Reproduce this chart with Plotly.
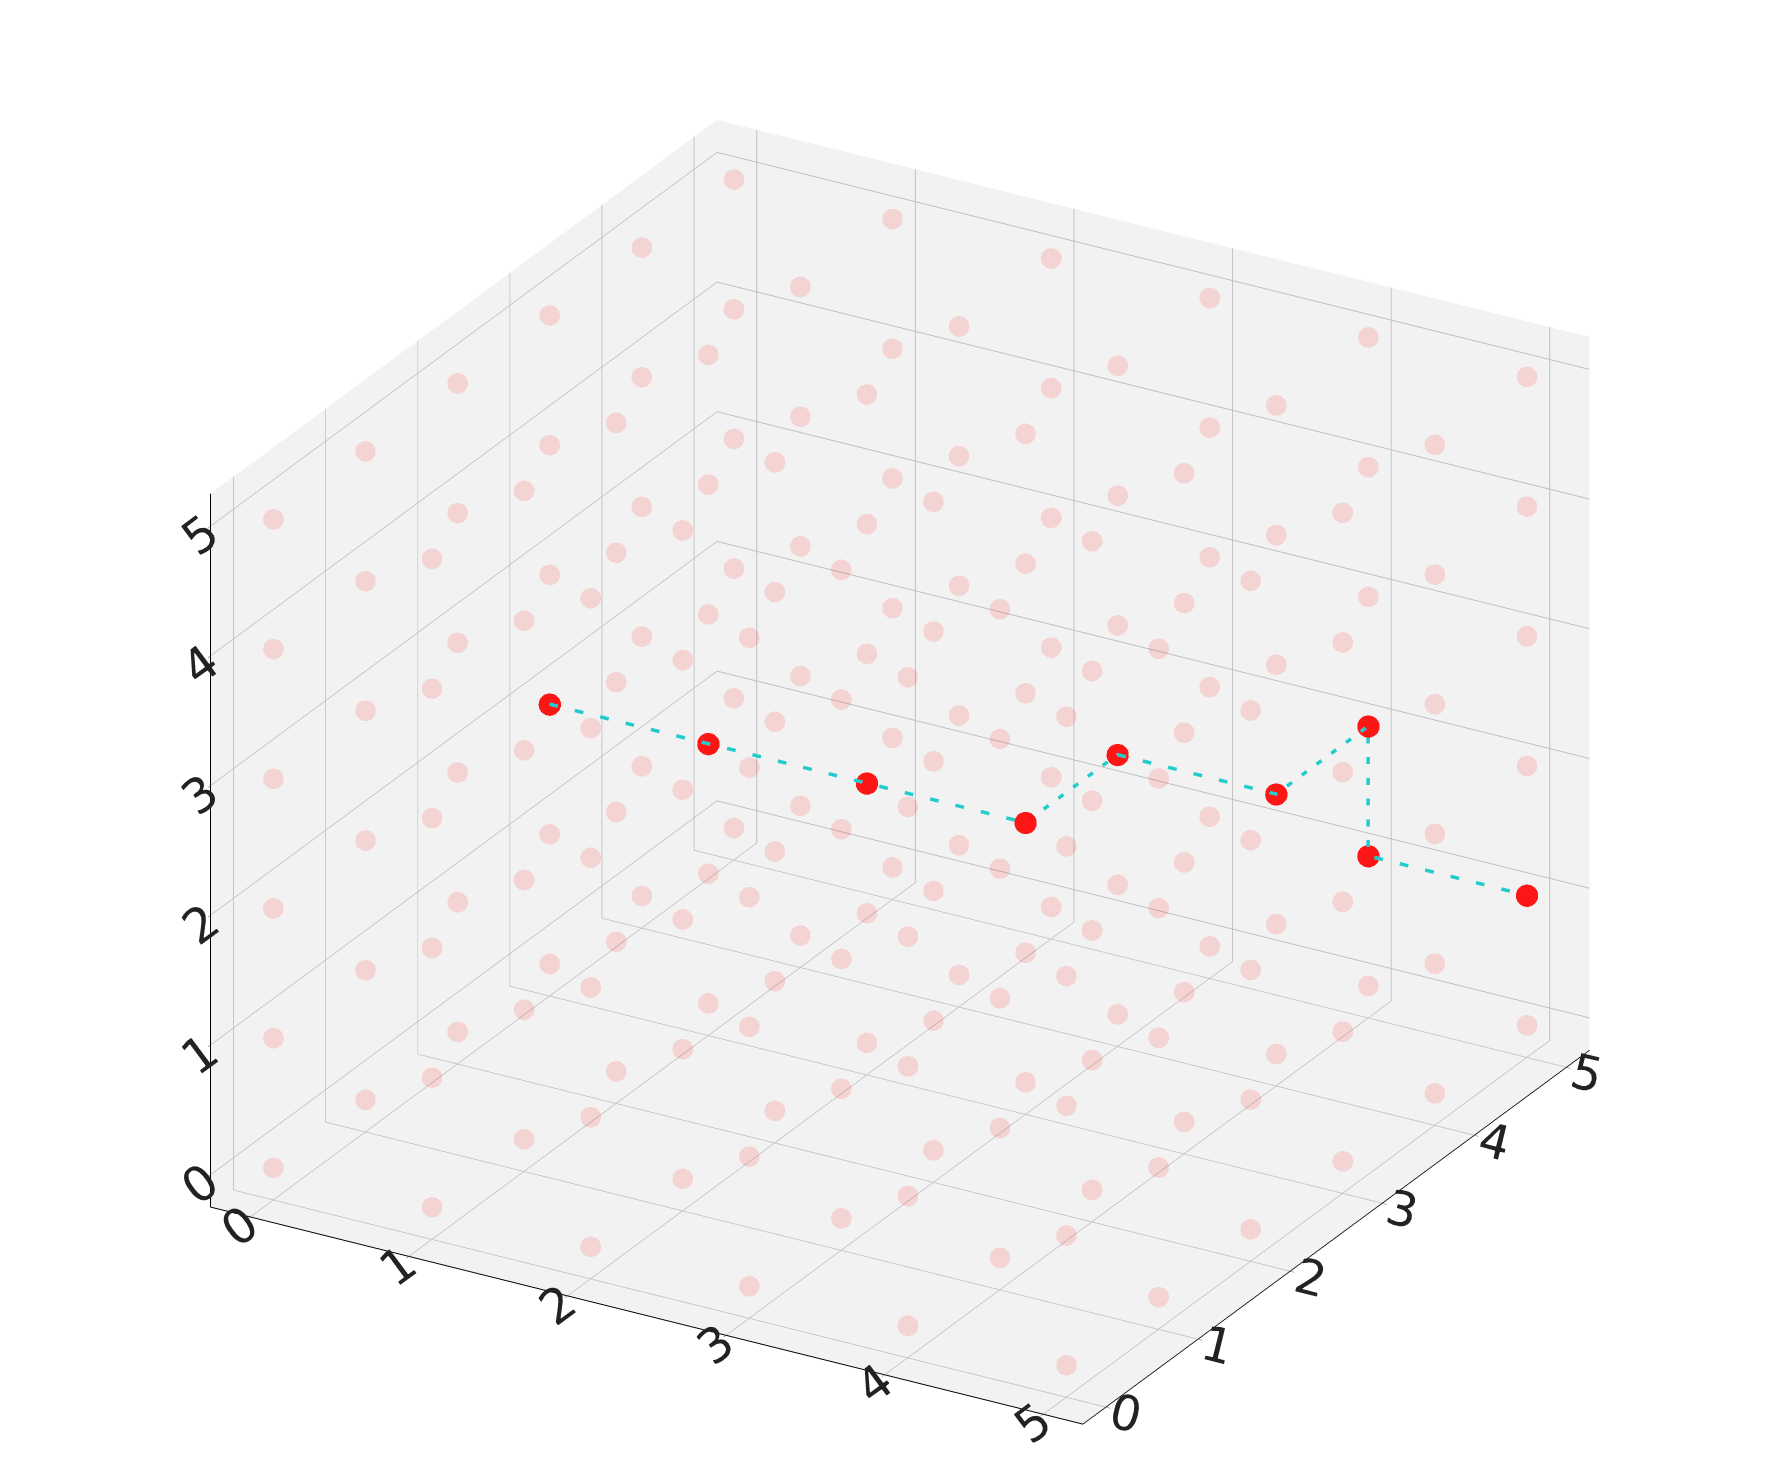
import plotly.graph_objects as go
import itertools

grid_vals = [0, 1, 2, 3, 4, 5]
path_x = [0, 1, 2, 3, 3, 4, 4, 4, 5]
path_y = [3, 3, 3, 3, 4, 4, 5, 5, 5]
path_z = [2, 2, 2, 2, 2, 2, 2, 1, 1]

pts = list(itertools.product(grid_vals, grid_vals, grid_vals))
gx = [p[0] for p in pts]; gy = [p[1] for p in pts]; gz = [p[2] for p in pts]

fig = go.Figure()
fig.add_trace(go.Scatter3d(x=gx, y=gy, z=gz, mode="markers",
    marker=dict(size=12, color="red", opacity=0.13, line=dict(width=0)), showlegend=False))
fig.add_trace(go.Scatter3d(x=path_x, y=path_y, z=path_z, mode="lines+markers",
    line=dict(color="#22cccc", width=7, dash="dash"),
    marker=dict(size=13, color="red", opacity=0.9, line=dict(width=0)), showlegend=False))

ax = dict(range=[-0.25, 5.25], tickvals=grid_vals, title="", showbackground=True,
          backgroundcolor="#f2f2f2", gridcolor="#c0c0c0", gridwidth=2,
          zeroline=False, showline=True, linecolor="black", linewidth=2,
          ticks="outside", tickfont=dict(size=24, family="DejaVu Sans", color="#222"))
fig.update_layout(
    width=1784, height=1462, paper_bgcolor="white",
    margin=dict(l=0, r=0, t=0, b=0),
    scene=dict(xaxis=ax, yaxis=ax, zaxis=ax, aspectmode="manual",
               aspectratio=dict(x=1.38, y=1.38, z=1.08),
               camera=dict(projection=dict(type="orthographic"),
                           eye=dict(x=0.9, y=-1.55, z=0.9), center=dict(x=0, y=0, z=0.05))),
)
fig.write_html("out.html")
